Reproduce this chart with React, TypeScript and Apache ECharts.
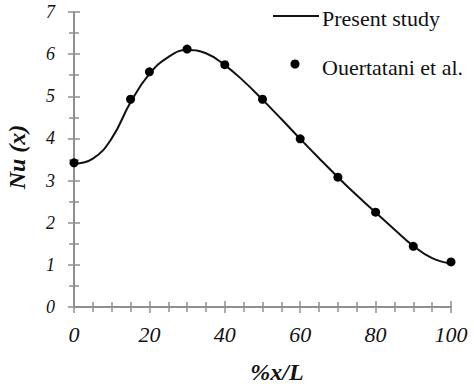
import React, { useEffect, useRef } from "react";
import * as echarts from "echarts";

// Present study (continuous curve)
const curveX = [0, 5, 10, 15, 20, 25, 30, 35, 40, 45, 50, 55, 60, 65, 70, 75, 80, 85, 90, 95, 100];
const curveY = [3.4, 3.52, 4.0, 4.86, 5.53, 5.93, 6.1, 6.02, 5.74, 5.36, 4.92, 4.46, 3.99, 3.53, 3.08, 2.65, 2.24, 1.84, 1.45, 1.16, 1.03];

// Ouertatani et al. (points)
const refX = [0, 15, 20, 30, 40, 50, 60, 70, 80, 90, 100];
const refY = [3.42, 4.93, 5.58, 6.12, 5.75, 4.93, 3.99, 3.08, 2.25, 1.44, 1.07];

const xTicks = { min: 0, max: 100, interval: 20 };
const yTicks = { min: 0, max: 7, interval: 1 };

const seriesNames = ["Present study", "Ouertatani et al."];
const xTitle = "%x/L";
const yTitle = "Nu (x)";

const FONT = "Liberation Serif";
const AXIS_COLOR = "#8f8f8f";

export default function App() {
  const ref = useRef<HTMLDivElement>(null);
  useEffect(() => {
    if (!ref.current) return;
    const chart = echarts.init(ref.current, undefined, { renderer: "svg" });
    const axisBase = (isX: boolean, inside: boolean, showLabel: boolean) => ({
      type: "value",
      ...(isX ? xTicks : yTicks),
      position: isX ? "bottom" : "left",
      axisLine: { show: showLabel, lineStyle: { color: AXIS_COLOR, width: 2 } },
      axisTick: { show: true, inside, length: 6, lineStyle: { color: AXIS_COLOR, width: 1.5 } },
      minorTick: {
        show: true,
        splitNumber: isX ? 4 : 2,
        length: 5,
        lineStyle: { color: AXIS_COLOR, width: 1.5 },
      },
      splitLine: { show: false },
      axisLabel: {
        show: showLabel,
        fontFamily: FONT,
        fontStyle: "italic",
        fontSize: isX ? 22 : 18,
        color: "#111",
        margin: isX ? 16 : 19,
      },
    });
    const textStyle = (text: string, size: number, italicBold: boolean, align: string) => ({
      text,
      fontFamily: FONT,
      fontSize: size,
      fontStyle: italicBold ? "italic" : "normal",
      fontWeight: italicBold ? "bold" : "normal",
      fill: "#111",
      textAlign: align,
      textVerticalAlign: "middle",
    });
    chart.setOption({
      animation: false,
      backgroundColor: "#fff",
      grid: { left: 74, right: 23, top: 12, bottom: 77 },
      xAxis: [axisBase(true, false, true), axisBase(true, true, false)],
      yAxis: [axisBase(false, false, true), axisBase(false, true, false)],
      series: [
        {
          name: seriesNames[0],
          type: "line",
          xAxisIndex: 0,
          yAxisIndex: 0,
          data: curveX.map((x, i) => [x, curveY[i]]),
          smooth: 0.45,
          symbol: "none",
          lineStyle: { color: "#111", width: 2 },
          z: 3,
        },
        {
          name: seriesNames[1],
          type: "scatter",
          xAxisIndex: 0,
          yAxisIndex: 0,
          data: refX.map((x, i) => [x, refY[i]]),
          symbol: "circle",
          symbolSize: 9,
          itemStyle: { color: "#000", opacity: 1 },
          z: 4,
        },
      ],
      graphic: [
        {
          type: "line",
          shape: { x1: 273, y1: 16, x2: 319, y2: 16 },
          style: { stroke: "#111", lineWidth: 2 },
        },
        { type: "text", x: 322, y: 18, style: textStyle(seriesNames[0], 22, false, "left") },
        {
          type: "circle",
          shape: { cx: 295, cy: 64, r: 4.5 },
          style: { fill: "#000" },
        },
        { type: "text", x: 322, y: 67, style: textStyle(seriesNames[1], 22, false, "left") },
        { type: "text", x: 277, y: 372, style: textStyle(xTitle, 24, true, "center") },
        {
          type: "text",
          x: 17,
          y: 157,
          rotation: Math.PI / 2,
          style: textStyle(yTitle, 24, true, "center"),
        },
      ],
    });
    return () => chart.dispose();
  }, []);
  return (
    <div
      ref={ref}
      style={{ position: "fixed", left: 0, top: 0, width: 474, height: 384, background: "#fff" }}
    />
  );
}
